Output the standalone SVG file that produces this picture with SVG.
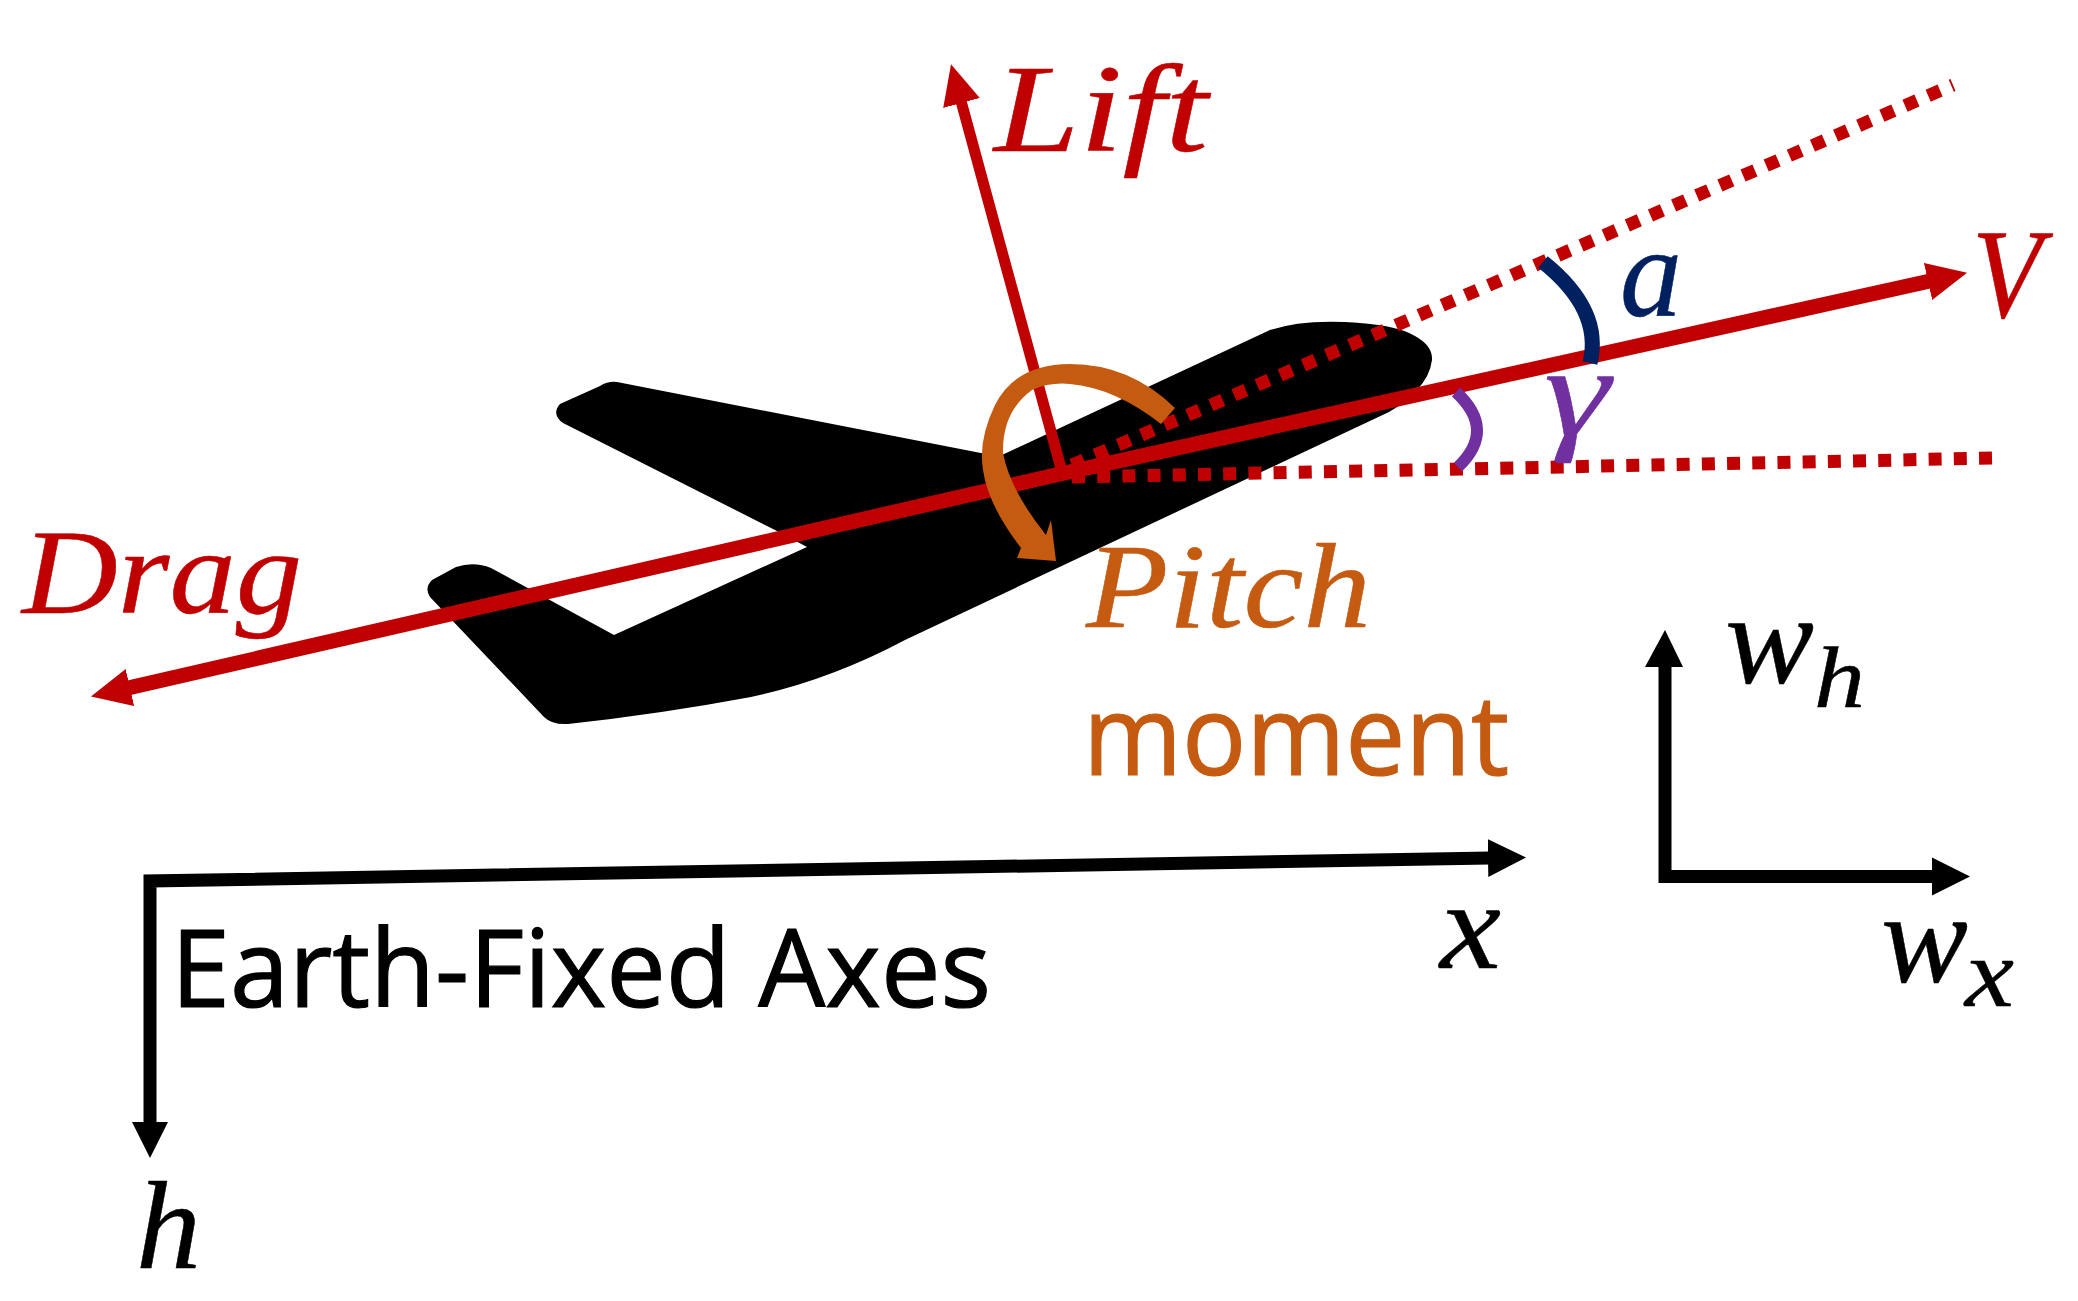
<svg xmlns="http://www.w3.org/2000/svg" width="2078" height="1301" viewBox="0 0 2078 1301">
<style>
.m{font-family:"Liberation Serif","DejaVu Serif",serif;font-style:italic;stroke-width:.5}
.s{font-family:"Open Sans","Liberation Sans",sans-serif;stroke-width:1.2}
.red{fill:#c00000;stroke:#c00000}.or{fill:#c55a11;stroke:#c55a11}.k{fill:#000;stroke:#000}
.r{stroke:#c00000;fill:none}.b{stroke:#000;fill:none;stroke-width:13}
.d{stroke:#c00000;fill:none;stroke-width:13;stroke-dasharray:13 12.2}
</style>
<defs>
<marker id="hr" markerUnits="userSpaceOnUse" markerWidth="44" markerHeight="44" refX="2" refY="20" orient="auto-start-reverse"><path d="M0,1L40,20L0,39Z" fill="#c00000"/></marker>
<marker id="hk" markerUnits="userSpaceOnUse" markerWidth="44" markerHeight="44" refX="2" refY="20" orient="auto"><path d="M0,1L38,20L0,39Z" fill="#000"/></marker>
</defs>
<rect width="2078" height="1301" fill="#fff"/>
<g id="plane"><path d="M617,382L986,454L1002,455L1270,330Q1300,320 1345,322Q1395,324 1415,336Q1433,346 1432,360Q1430,376 1417,390Q1405,403 1389,412L1102,547L905,640Q830,680 751,697Q660,714 568,724Q552,725 544,717L430,597Q424,588 432,580L456,567Q474,561 491,568L614,635L807,547L779,532L563,423Q551,414 560,404L600,386Q608,381 617,382Z" fill="#000"/></g>
<g id="connectors">
<line class="r" stroke-width="11" x1="1062" y1="472" x2="961" y2="101" marker-end="url(#hr)"/>
<line class="d" x1="1072" y1="465" x2="1953" y2="85"/>
<line class="d" x1="1072" y1="477" x2="1995" y2="458"/>
<line class="r" stroke-width="15" x1="1060" y1="474" x2="1930" y2="281" marker-end="url(#hr)"/>
<line class="r" stroke-width="15" x1="1060" y1="474" x2="128" y2="688" marker-end="url(#hr)"/>
<path class="r" style="stroke:#002060" stroke-width="15" d="M1543,262Q1603,310 1590,363"/>
<path class="r" style="stroke:#7030a0" stroke-width="12" d="M1456,392Q1497,430 1458,467"/>
<path fill="#c55a11" d="M1175,408Q1130,364 1070,364Q1016,364 995,405Q978,440 983,470Q988,505 1021,548L1017,558L1056,561L1051,520L1046,535Q1010,490 1003,453Q1002,412 1032,390Q1050,382 1070,384Q1115,388 1161,424Z"/>
<path class="b" d="M150,1124V881L1490,858" marker-end="url(#hk)"/>
<path d="M132,1122H168L150,1158Z" fill="#000"/>
<path class="b" d="M1665,667V876.5H1934" marker-end="url(#hk)"/>
<path d="M1645,667H1683L1665,630Z" fill="#000"/>
</g>
<g id="label-lift"><text class="m red" x="994" y="151" font-size="125" textLength="214" lengthAdjust="spacingAndGlyphs">Lift</text></g>
<g id="label-drag"><text class="m red" x="22" y="613" font-size="120" textLength="280" lengthAdjust="spacingAndGlyphs">Drag</text></g>
<g id="label-v"><text class="m red" x="1972" y="317" font-size="127" textLength="70" lengthAdjust="spacingAndGlyphs">V</text></g>
<g id="label-alpha"><text class="m" fill="#002060" stroke="#002060" x="1620" y="316" font-size="130" textLength="62" lengthAdjust="spacingAndGlyphs">a</text></g>
<g id="label-gamma"><text class="m" fill="#7030a0" stroke="#7030a0" x="1544" y="435" font-size="130" textLength="66" lengthAdjust="spacingAndGlyphs">γ</text></g>
<g id="label-pitch"><text class="m or" x="1086" y="627" font-size="120" textLength="285" lengthAdjust="spacingAndGlyphs">Pitch</text>
<text class="s or" x="1083" y="775" font-size="112" textLength="426" lengthAdjust="spacingAndGlyphs">moment</text></g>
<g id="label-earth"><text class="s k" x="171" y="1007" font-size="108" textLength="820" lengthAdjust="spacingAndGlyphs">Earth-Fixed Axes</text></g>
<g id="label-h"><text class="m k" x="136" y="1268" font-size="125" textLength="65" lengthAdjust="spacingAndGlyphs">h</text></g>
<g id="label-x"><text class="m k" x="1440" y="968" font-size="125" textLength="61" lengthAdjust="spacingAndGlyphs">x</text></g>
<g id="label-wh"><text class="m k" x="1725" y="683" font-size="130" textLength="89" lengthAdjust="spacingAndGlyphs">w</text><text class="m k" x="1814" y="707" font-size="86" textLength="51" lengthAdjust="spacingAndGlyphs">h</text></g>
<g id="label-wx"><text class="m k" x="1881" y="982" font-size="130" textLength="87" lengthAdjust="spacingAndGlyphs">w</text><text class="m k" x="1965" y="1006" font-size="98" textLength="49" lengthAdjust="spacingAndGlyphs">x</text></g>
</svg>
